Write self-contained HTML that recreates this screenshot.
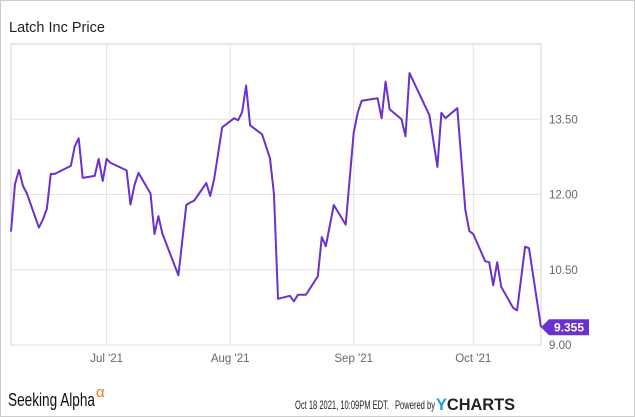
<!DOCTYPE html>
<html><head><meta charset="utf-8"><style>
html,body{margin:0;padding:0;background:#fff;}
#wrap{position:relative;width:635px;height:417px;box-sizing:border-box;border:1px solid #ccc;overflow:hidden;font-family:"Liberation Sans",sans-serif;}
svg{position:absolute;left:0;top:0;}
</style></head><body>
<div id="wrap">
<svg id="chart" width="635" height="417">
<text x="8" y="31" font-size="14.5" fill="#222">Latch Inc Price</text>
<g id="grid"></g>
<g id="xlabels"></g>
<g id="ylabels"></g>
<path id="line" fill="none" stroke="#6a31cc" stroke-width="2" stroke-linejoin="round"></path>
<g id="lastlabel"></g>
<text x="7" y="405" font-size="18" fill="#111" textLength="87" lengthAdjust="spacingAndGlyphs">Seeking Alpha</text>
<text x="95" y="396" font-size="15" fill="#f07b1d">α</text>
<text x="294" y="408" font-size="12" fill="#222" textLength="94" lengthAdjust="spacingAndGlyphs">Oct 18 2021, 10:09PM EDT.</text>
<text x="394" y="408" font-size="12" fill="#222" textLength="40" lengthAdjust="spacingAndGlyphs">Powered by</text>
<text x="435" y="409" font-size="17" font-weight="bold" fill="#222" textLength="79" lengthAdjust="spacingAndGlyphs"><tspan fill="#1b9ae0">Y</tspan>CHARTS</text>
</svg>
</div>
<script>
const days = [-24,-23,-22,-21,-20,-17,-16,-15,-14,-13,-9,-8,-7,-6,-3,-2,-1,0,1,5,6,7,8,11,12,13,14,18,20,21,22,25,26,27,29,32,33,34,35,36,39,41,42,43,46,47,48,50,53,54,55,57,60,62,63,64,68,69,70,71,74,75,76,81,83,84,85,88,90,91,92,95,96,97,98,99,102,103,105,106,109];
const prices = [11.26,12.21,12.49,12.17,12.02,11.34,11.50,11.72,12.41,12.41,12.57,12.96,13.12,12.33,12.37,12.71,12.27,12.71,12.63,12.48,11.80,12.19,12.43,12.02,11.21,11.57,11.22,10.39,11.79,11.84,11.88,12.23,11.97,12.31,13.34,13.52,13.48,13.64,14.17,13.38,13.20,12.72,12.00,9.92,9.98,9.87,10.00,10.00,10.37,11.15,10.97,11.79,11.40,13.23,13.63,13.87,13.92,13.52,14.25,13.70,13.50,13.16,14.42,13.58,12.55,13.63,13.52,13.72,11.70,11.27,11.21,10.67,10.65,10.19,10.65,10.16,9.74,9.69,10.96,10.93,9.355];
const yTicks = [9.00,10.50,12.00,13.50];
const xTickDays = [0,31,62,92];
const xTickLabels = ["Jul '21","Aug '21","Sep '21","Oct '21"];
const lastLabel = "9.355";

const L=10,R=540,T=43,B=344, D0=-24,D1=109, V0=9,V1=15;
const xs=d=>L+(d-D0)/(D1-D0)*(R-L);
const ys=v=>B-(v-V0)/(V1-V0)*(B-T);
const NS="http://www.w3.org/2000/svg";
function mk(tag,attrs,parent){const e=document.createElementNS(NS,tag);for(const k in attrs)e.setAttribute(k,attrs[k]);parent.appendChild(e);return e;}
const grid=document.getElementById('grid');
const frame=mk('rect',{x:L,y:T,width:R-L,height:B-T,fill:'none',stroke:'#d0d0d0','stroke-width':1},grid);


yTicks.forEach(v=>{
  const g=mk('line',{x1:L,x2:R,y1:ys(v),y2:ys(v),stroke:'#e2e2e2','stroke-width':1},grid);
  
  
  const t=mk('text',{x:548,y:ys(v)+4,'font-size':11.5,fill:'#666'},document.getElementById('ylabels'));
  t.textContent=v.toFixed(2);
  
  
});
xTickDays.forEach((d,i)=>{
  const g=mk('line',{x1:xs(d),x2:xs(d),y1:T,y2:B,stroke:'#e2e2e2','stroke-width':1},grid);
  
  
  const t=mk('text',{x:xs(d),y:361,'font-size':11.5,fill:'#666','text-anchor':'middle'},document.getElementById('xlabels'));
  t.textContent=xTickLabels[i];
  
  
});
document.getElementById('line').setAttribute('d',days.map((d,i)=>(i?'L':'M')+xs(d).toFixed(1)+','+ys(prices[i]).toFixed(1)).join(''));
const lx=xs(days[days.length-1]), ly=ys(prices[prices.length-1]);
const lg=document.getElementById('lastlabel');
const tag=mk('path',{d:`M${lx},${ly} L${lx+8},${ly-8} L${lx+48},${ly-8} L${lx+48},${ly+8} L${lx+8},${ly+8} Z`,fill:'#6a31cc'},lg);


const lt=mk('text',{x:lx+28,y:ly+4.5,'font-size':12,'font-weight':'bold',fill:'#fff','text-anchor':'middle'},lg);
lt.textContent=lastLabel;


</script>
</body></html>
